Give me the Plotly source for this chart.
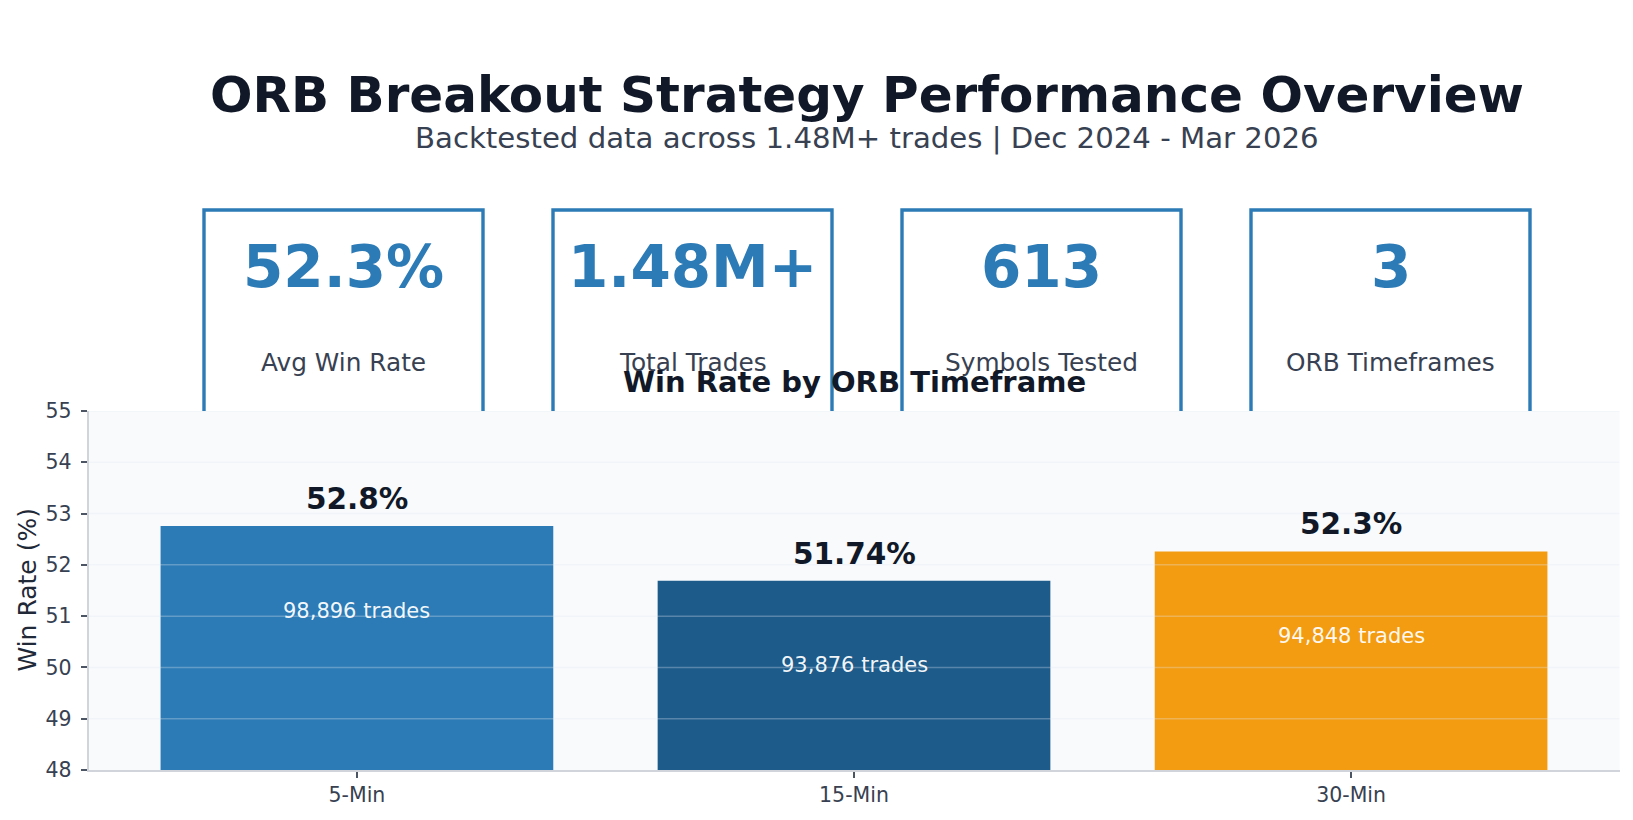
import plotly.graph_objects as go

# ---------------- data ----------------
timeframes = ["5-Min", "15-Min", "30-Min"]
win_rates = [52.76, 51.69, 52.26]
win_rate_labels = ["52.8%", "51.74%", "52.3%"]
trade_counts = [98896, 93876, 94848]
bar_colors = ["#2c7bb6", "#1d5b8b", "#f39c12"]

card_values = ["52.3%", "1.48M+", "613", "3"]
card_labels = ["Avg Win Rate", "Total Trades", "Symbols Tested", "ORB Timeframes"]

y_ticks = [48, 49, 50, 51, 52, 53, 54, 55]

title_text = "ORB Breakout Strategy Performance Overview"
subtitle_text = "Backtested data across 1.48M+ trades | Dec 2024 - Mar 2026"
chart_title = "Win Rate by ORB Timeframe"

# ---------------- layout geometry (pixels) ----------------
W, H = 1633, 820
FONT = "DejaVu Sans"
plot_l, plot_r, plot_t, plot_b = 88.5, 1619.5, 411, 770


def px(x):
    return x / W


def py(y):
    return 1 - y / H


fig = go.Figure()
fig.add_trace(go.Bar(
    x=timeframes,
    y=win_rates,
    marker=dict(color=bar_colors, line=dict(width=0)),
    width=0.79,
    hoverinfo="x+y",
    showlegend=False,
))

shapes = []
annotations = []

# KPI cards (open at the bottom, hidden behind the plot area)
card_w = 279
card_top = 210
card_centers = [343.5 + i * 349 for i in range(len(card_values))]
for cx, val, lab in zip(card_centers, card_values, card_labels):
    x0, x1 = px(cx - card_w / 2), px(cx + card_w / 2)
    y0, y1 = py(plot_t), py(card_top)
    shapes.append(dict(
        type="path", xref="paper", yref="paper", layer="below",
        path=f"M {x0},{y0} L {x0},{y1} L {x1},{y1} L {x1},{y0}",
        line=dict(color="#2c7bb6", width=3.4),
    ))
    annotations.append(dict(
        x=px(cx), y=py(267), xref="paper", yref="paper", showarrow=False,
        text=f"<b>{val}</b>", font=dict(family=FONT, size=58, color="#2c7bb6"),
        xanchor="center", yanchor="middle",
    ))
    annotations.append(dict(
        x=px(cx), y=py(363), xref="paper", yref="paper", showarrow=False,
        text=lab, font=dict(family=FONT, size=24.8, color="#374151"),
        xanchor="center", yanchor="middle",
    ))

# gridlines drawn above bars (as in reference)
for t in y_ticks[1:]:
    shapes.append(dict(
        type="line", xref="paper", yref="y", x0=px(plot_l), x1=px(plot_r),
        y0=t, y1=t, layer="above",
        line=dict(color="rgba(226,232,240,0.3)", width=1.5),
    ))

# bar labels
for tf, v, lab, n in zip(timeframes, win_rates, win_rate_labels, trade_counts):
    annotations.append(dict(
        x=tf, y=v + 0.53, xref="x", yref="y", showarrow=False,
        text=f"<b>{lab}</b>", font=dict(family=FONT, size=29.5, color="#111827"),
        xanchor="center", yanchor="middle",
    ))
    annotations.append(dict(
        x=tf, y=v - 1.65, xref="x", yref="y", showarrow=False,
        text=f"{n:,} trades", font=dict(family=FONT, size=21, color="rgba(255,255,255,0.95)"),
        xanchor="center", yanchor="middle",
    ))

# titles
annotations.append(dict(
    x=px(867), y=py(95), xref="paper", yref="paper", showarrow=False,
    text=f"<b>{title_text}</b>", font=dict(family=FONT, size=50, color="#111827"),
    xanchor="center", yanchor="middle",
))
annotations.append(dict(
    x=px(867), y=py(137.5), xref="paper", yref="paper", showarrow=False,
    text=subtitle_text, font=dict(family=FONT, size=29.2, color="#374151"),
    xanchor="center", yanchor="middle",
))
annotations.append(dict(
    x=px((plot_l + plot_r) / 2), y=py(382), xref="paper", yref="paper", showarrow=False,
    text=f"<b>{chart_title}</b>", font=dict(family=FONT, size=29, color="#111827"),
    xanchor="center", yanchor="middle",
))
annotations.append(dict(
    x=px(27), y=py((plot_t + plot_b) / 2), xref="paper", yref="paper", showarrow=False,
    text="Win Rate (%)", textangle=-90, font=dict(family=FONT, size=25, color="#1f2937"),
    xanchor="center", yanchor="middle",
))

fig.update_layout(
    width=W, height=H,
    margin=dict(l=0, r=0, t=0, b=0, autoexpand=False),
    paper_bgcolor="white",
    plot_bgcolor="#f8fafc",
    font=dict(family=FONT, color="#374151"),
    shapes=shapes,
    annotations=annotations,
    xaxis=dict(
        domain=[px(plot_l), px(plot_r)],
        range=[-0.54, 2.54],
        automargin=False,
        showgrid=False, zeroline=False,
        showline=True, linecolor="#d1d5db", linewidth=1.5,
        ticks="outside", ticklen=6, tickcolor="#4b5563", tickwidth=1.5,
        tickfont=dict(family=FONT, size=20.5, color="#374151"),
        fixedrange=True,
    ),
    yaxis=dict(
        domain=[py(plot_b), py(plot_t)],
        range=[48, 55],
        tickvals=y_ticks,
        automargin=False,
        showgrid=False, zeroline=False,
        showline=True, linecolor="#d1d5db", linewidth=1.5,
        ticks="outside", ticklen=6, tickcolor="#4b5563", tickwidth=1.5,
        tickfont=dict(family=FONT, size=20.5, color="#374151"),
        ticklabelstandoff=5,
        fixedrange=True,
    ),
)

fig.write_html("out.html")
